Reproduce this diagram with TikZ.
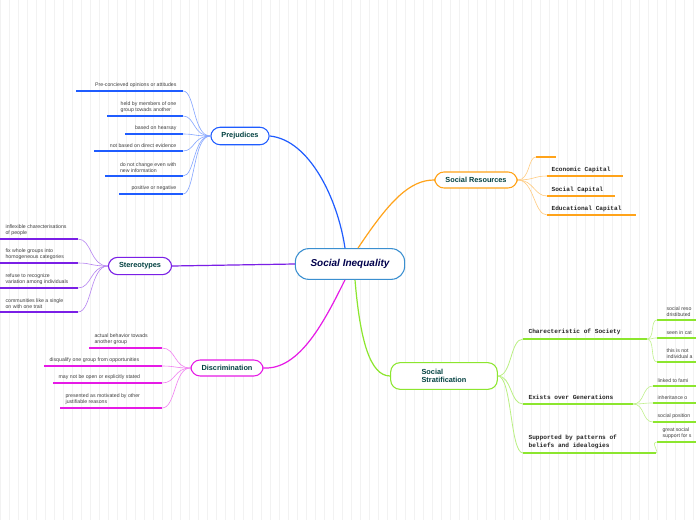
\documentclass[tikz,border=0pt]{standalone}
\usepackage{fontspec}
\setmainfont{Liberation Sans}
\setmonofont{Liberation Mono}
\tikzset{
  topic/.style={draw=#1, line width=0.8pt, rounded corners=7pt, fill=white, font=\fontsize{5.5}{6.5}\selectfont\bfseries, text=teal!50!black, inner xsep=8pt, inner ysep=4pt},
  leaf/.style={font=\fontsize{3.9}{4.6}\selectfont, text=black!75, align=left, inner sep=1pt},
  mono/.style={font=\ttfamily\bfseries\fontsize{4.6}{6}\selectfont, text=black!85, align=left, inner sep=1pt},
  uline/.style={draw=#1, line width=1.1pt},
  twig/.style={draw=#1!55, line width=0.45pt},
  limb/.style={draw=#1, line width=0.9pt}
}
\begin{document}
\begin{tikzpicture}[x=0.75pt, y=-0.75pt]
  \definecolor{Cb}{HTML}{1f5cff}
  \definecolor{Cp}{HTML}{7a1fe6}
  \definecolor{Cm}{HTML}{e61ae6}
  \definecolor{Co}{HTML}{ffa31a}
  \definecolor{Cg}{HTML}{8ce62e}
  \definecolor{Cc}{HTML}{3a8fd0}
  \useasboundingbox (0,0) rectangle (696,520);
  \fill[white] (0,0) rectangle (696,520);
  \draw[black!5, line width=0.3pt, step=9] (0,0) grid (696,520);

  % centre
  \node[draw=Cc, line width=0.8pt, rounded corners=10pt, fill=white, minimum width=82pt, minimum height=23pt,
        font=\rmfamily\itshape\bfseries\fontsize{7.5}{9}\selectfont, text=blue!30!black] (root) at (350,264) {Social Inequality};

  % main topics
  \node[topic=Cb] (prej) at (240,136) {Prejudices};
  \node[topic=Cp] (ster) at (140,266) {Stereotypes};
  \node[topic=Cm] (disc) at (227,368) {Discrimination};
  \node[topic=Co] (res) at (476,180) {Social Resources};
  \node[topic=Cg, align=left, minimum width=80pt, minimum height=20pt] (strat) at (444,376) {Social\\Stratification};

  \draw[limb=Cb] (root.north) ++(-5,0) .. controls (338,200) and (310,140) .. (prej.east);
  \draw[limb=Cp] (root.west) -- (ster.east);
  \draw[limb=Cm] (root.south) ++(-5,0) .. controls (325,320) and (300,370) .. (disc.east);
  \draw[limb=Co] (root.north) ++(8,0) .. controls (390,200) and (410,180) .. (res.west);
  \draw[limb=Cg] (root.south) ++(5,0) .. controls (360,340) and (370,376) .. (strat.west);

  % prejudices
  \foreach \y/\l/\t in {91/76/{Pre-concieved opinions or attitudes},
                        116/107/{held by members of one\\group towads another},
                        134/125/{based on hearsay},
                        151/94/{not based on direct evidence},
                        176/105/{do not change even with\\new information},
                        194/119/{positive or negative}} {
    \coordinate (pl) at (\l,\y);
    \coordinate (pr) at (183,\y);
    \node[leaf, anchor=south east] at (178,\y-2) {\t};
    \draw[uline=Cb] (pl) -- (pr);
    \draw[twig=Cb] (pr) .. controls (195,\y) and (193,136) .. (prej.west);
  }

  % stereotypes
  \foreach \y/\t in {239/{inflexible charecterisations\\of people},
                     263/{fix whole groups into\\homogeneous categories},
                     288/{refuse to recognize\\variation among individuals},
                     312/{communities like a single\\on with one trait}} {
    \coordinate (sl) at (0,\y);
    \coordinate (sr) at (78,\y);
    \node[leaf, anchor=south west] at (4,\y-2) {\t};
    \draw[uline=Cp] (sl) -- (sr);
    \draw[twig=Cp] (sr) .. controls (92,\y) and (90,266) .. (ster.west);
  }

  % discrimination
  \foreach \y/\l/\t in {348/89/{actual behavior towads\\another group},
                        366/44/{disqualify one group from opportunities},
                        383/53/{may not be open or explicitly stated},
                        408/60/{presented as motivated by other\\justifiable reasons}} {
    \coordinate (dl) at (\l,\y);
    \coordinate (dr) at (162,\y);
    \node[leaf, anchor=south west] at (\l+4,\y-2) {\t};
    \draw[uline=Cm] (dl) -- (dr);
    \draw[twig=Cm] (dr) .. controls (176,\y) and (174,368) .. (disc.west);
  }

  % social resources
  \draw[uline=Co] (536,157) coordinate (r0) -- (556,157);
  \draw[twig=Co] (res.east) .. controls (530,180) and (528,157) .. (r0);
  \foreach \y/\r/\t in {176/623/{Economic Capital}, 196/615/{Social Capital}, 215/636/{Educational Capital}} {
    \coordinate (rl) at (547,\y);
    \node[mono, anchor=south west] at (550,\y-2) {\t};
    \draw[uline=Co] (rl) -- (\r,\y);
    \draw[twig=Co] (res.east) .. controls (534,180) and (534,\y) .. (rl);
  }

  % stratification
  \foreach \y/\r/\n/\t in {339/647/c1/{Charecteristic of Society},
                           404/633/c2/{Exists over Generations},
                           453/656/c3/{Supported by patterns of\\beliefs and idealogies}} {
    \coordinate (\n) at (523,\y);
    \node[mono, anchor=south west] at (527,\y-3) {\t};
    \draw[uline=Cg] (\n) -- (\r,\y);
    \draw[limb=Cg!60, line width=0.6pt] (strat.east) .. controls (512,376) and (510,\y) .. (\n);
  }
  \foreach \y/\t in {320/{social reso\\dristibuted}, 338/{seen in cat}, 362/{this is not\\individual a}} {
    \coordinate (gl) at (657,\y);
    \node[leaf, anchor=south west] at (665,\y-2) {\t};
    \draw[uline=Cg] (gl) -- (696,\y);
    \draw[twig=Cg] (647,339) .. controls (655,339) and (650,\y) .. (gl);
  }
  \foreach \y/\t in {386/{linked to fami}, 403/{inheritance o}, 422/{social position}} {
    \coordinate (gl) at (653,\y);
    \node[leaf, anchor=south west] at (656,\y-2) {\t};
    \draw[uline=Cg] (gl) -- (696,\y);
    \draw[twig=Cg] (633,404) .. controls (645,404) and (642,\y) .. (gl);
  }
  \coordinate (g7) at (657,442);
  \node[leaf, anchor=south west] at (661,440) {great social\\support for s};
  \draw[uline=Cg] (g7) -- (696,442);
  \draw[twig=Cg] (656,453) .. controls (660,453) and (650,442) .. (g7);
\end{tikzpicture}
\end{document}
